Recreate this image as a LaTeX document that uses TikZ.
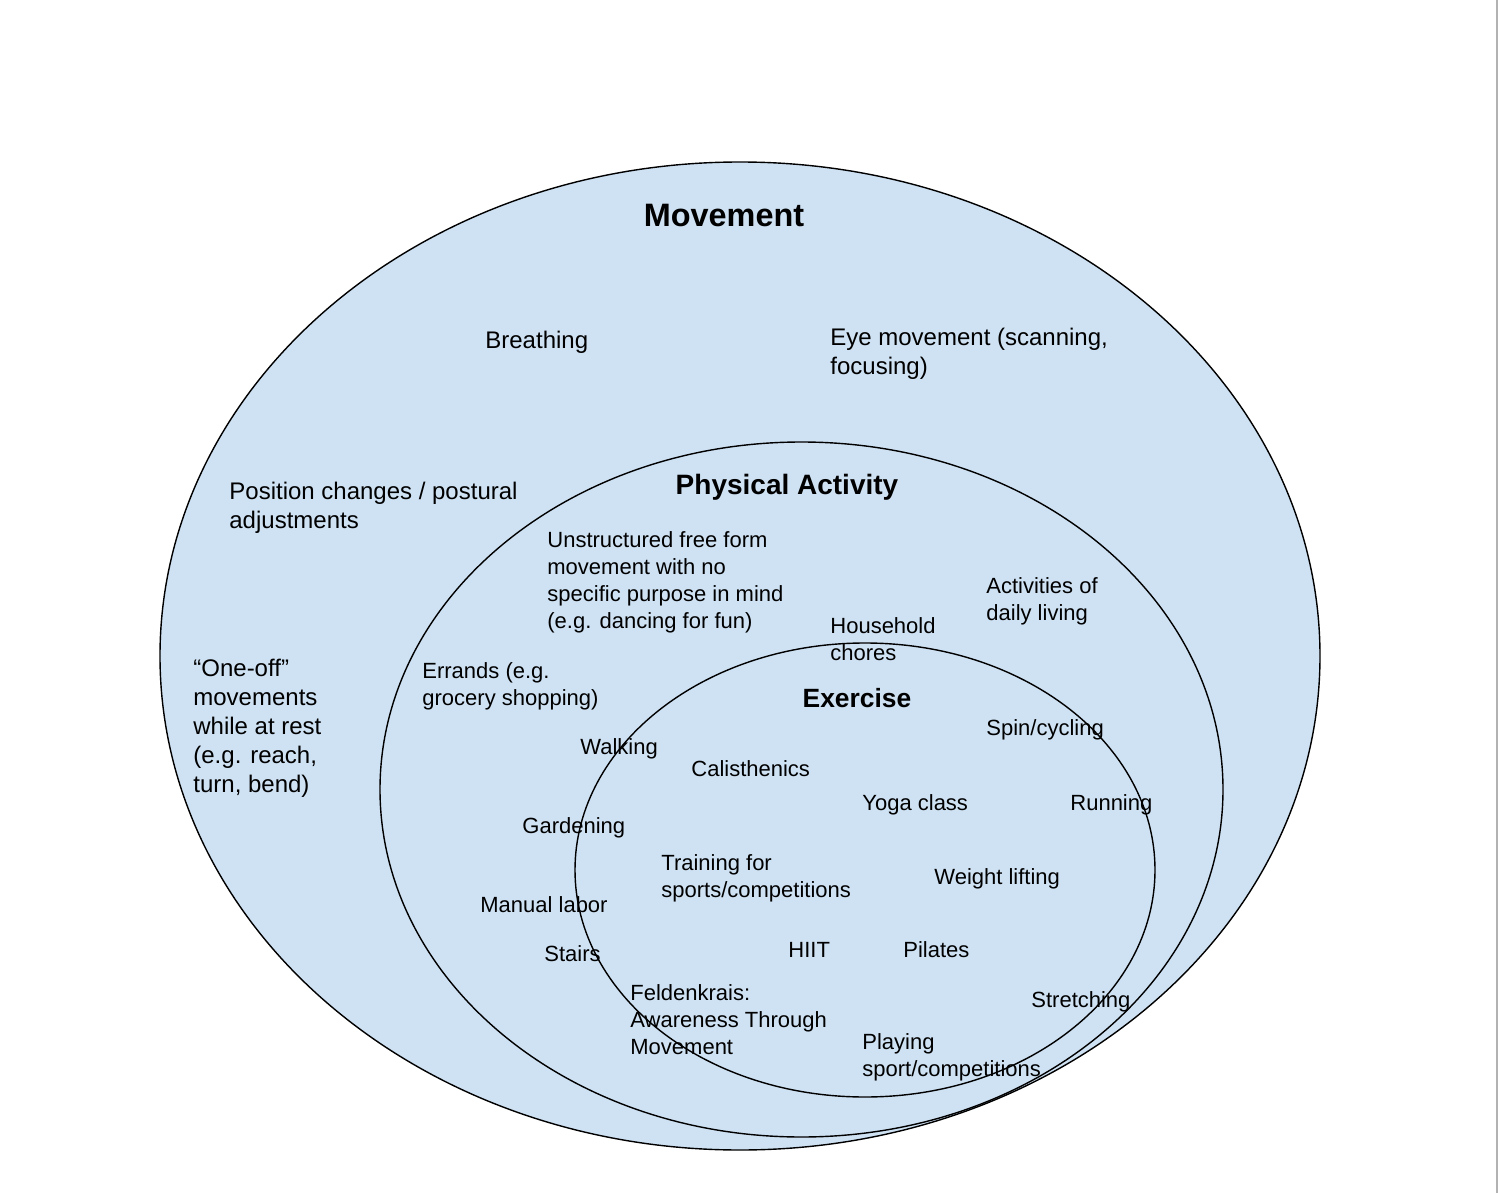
\documentclass[tikz,border=0pt]{standalone}
\usepackage{fontspec}
\setmainfont{Liberation Sans}
\definecolor{fillb}{HTML}{CFE2F3}
\begin{document}
\begin{tikzpicture}[x=0.5pt,y=-0.5pt,
  ell/.style={draw=black,line width=0.7pt,fill=fillb},
  big/.style={anchor=base west,align=left,font=\fontsize{12}{14.5}\selectfont,inner sep=0},
  sm/.style={anchor=base west,align=left,font=\fontsize{11}{13.5}\selectfont,inner sep=0},
  ttl/.style={anchor=base,inner sep=0,font=\bfseries\fontsize{14}{17}\selectfont}]
\useasboundingbox (0,0) rectangle (1500,1193);
\draw[gray!60,line width=0.8pt] (1497,0) -- (1497,1193);
\path[ell] (740,656) ellipse [x radius=580,y radius=494];
\path[ell] (801.5,789.5) ellipse [x radius=421.5,y radius=347.5];
\path[ell] (865,870) ellipse [x radius=290,y radius=227];
\node[ttl,font=\bfseries\fontsize{16.2}{19}\selectfont] (mov) at (724,227) {Movement};
\node[big] (br) at (485,348) {Breathing};
\node[big] (eye) at (830,374) {Eye movement (scanning,\\focusing)};
\node[big] (pos) at (229,528) {Position changes / postural\\adjustments};
\node[big] (one) at (193,792) {“One-off”\\movements\\while at rest\\(e.g. reach,\\turn, bend)};
\node[ttl] (pa) at (787,494) {Physical Activity};
\node[sm] (un) at (547,628) {Unstructured free form\\movement with no\\specific purpose in mind\\(e.g. dancing for fun)};
\node[sm] (adl) at (986,620) {Activities of\\daily living};
\node[sm] (hh) at (830,660) {Household\\chores};
\node[sm] (er) at (422,705) {Errands (e.g.\\grocery shopping)};
\node[ttl,font=\bfseries\fontsize{13.2}{16}\selectfont] (ex) at (857,707) {Exercise};
\node[sm] (spin) at (986,735) {Spin/cycling};
\node[sm] (walk) at (580,754) {Walking};
\node[sm] (cal) at (691,776) {Calisthenics};
\node[sm] (yoga) at (862,810) {Yoga class};
\node[sm] (run) at (1070,810) {Running};
\node[sm] (gard) at (522,833) {Gardening};
\node[sm] (tr) at (661,897) {Training for\\sports/competitions};
\node[sm] (wl) at (934,884) {Weight lifting};
\node[sm] (man) at (480,912) {Manual labor};
\node[sm] (st) at (544,961) {Stairs};
\node[sm] (hiit) at (788,957) {HIIT};
\node[sm] (pil) at (903,957) {Pilates};
\node[sm] (fel) at (630,1054) {Feldenkrais:\\Awareness Through\\Movement};
\node[sm] (str) at (1031,1007) {Stretching};
\node[sm] (play) at (862,1076) {Playing\\sport/competitions};
\end{tikzpicture}
\end{document}
